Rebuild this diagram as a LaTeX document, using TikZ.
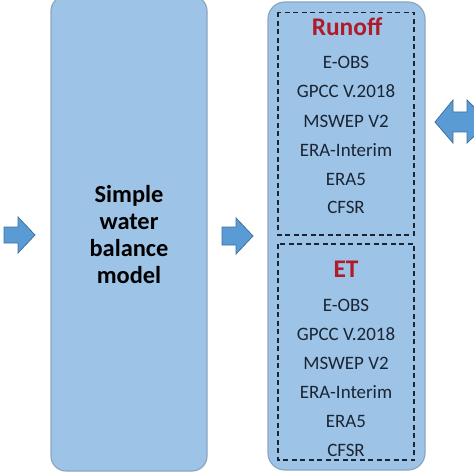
\documentclass[tikz,border=0pt]{standalone}
\usepackage{fontspec}
\setmainfont{Carlito}
\definecolor{boxfill}{HTML}{9DC3E6}
\definecolor{boxline}{HTML}{8AA6C0}
\definecolor{arrfill}{HTML}{5B9BD5}
\definecolor{arrline}{HTML}{41719C}
\definecolor{titlered}{HTML}{B01B2A}
\definecolor{txt}{HTML}{1A2433}
\begin{document}
\begin{tikzpicture}[x=1bp,y=-1bp,
  bigbox/.style={fill=boxfill,draw=boxline,line width=1.2bp,rounded corners=15bp},
  dashbox/.style={draw=txt,line width=1.4bp,dash pattern=on 5bp off 3.5bp},
  blockarrow/.style={fill=arrfill,draw=arrline,line width=0.8bp},
  item/.style={anchor=base,inner sep=0pt,text=txt,font=\fontsize{19}{21}\selectfont},
  title/.style={anchor=base,inner sep=0pt,text=titlered,font=\fontsize{25.5}{27}\selectfont\bfseries},
  model/.style={anchor=base,inner sep=0pt,text=black,font=\fontsize{24.5}{26}\selectfont\bfseries}]
\useasboundingbox (0,0) rectangle (474,474);
\clip (0,0) rectangle (474,474);
% boxes
\draw[bigbox] (51,-4) rectangle (207,471);
\draw[bigbox,rounded corners=17bp] (268,2) rectangle (425,470);
\draw[dashbox] (278,12.5) rectangle (414,235);
\draw[dashbox] (278,244) rectangle (414,460);
% arrows
\draw[blockarrow] (4,227) -- (18,227) -- (18,217) -- (35,235) -- (18,253) -- (18,243) -- (4,243) -- cycle;
\draw[blockarrow] (222,227) -- (236,227) -- (236,218) -- (253,236) -- (236,254) -- (236,245) -- (222,245) -- cycle;
\draw[blockarrow] (435,122) -- (453,100) -- (453,112) -- (467,112) -- (467,100) -- (489,122) -- (467,143) -- (467,132) -- (453,132) -- (453,143) -- cycle;
% left text
\node[model] (m1) at (129,203) {Simple};
\node[model] (m2) at (129,230) {water};
\node[model] (m3) at (129,256) {balance};
\node[model] (m4) at (129,283) {model};
% runoff
\node[title] (rt) at (347,36) {Runoff};
\node[item] (r1) at (346,69) {E-OBS};
\node[item] (r2) at (346,98) {GPCC V.2018};
\node[item] (r3) at (346,128) {MSWEP V2};
\node[item] (r4) at (346,157) {ERA-Interim};
\node[item] (r5) at (346,186) {ERA5};
\node[item] (r6) at (346,214) {CFSR};
% ET
\node[title] (et) at (346,277) {ET};
\node[item] (e1) at (346,311) {E-OBS};
\node[item] (e2) at (346,340) {GPCC V.2018};
\node[item] (e3) at (346,369) {MSWEP V2};
\node[item] (e4) at (346,398) {ERA-Interim};
\node[item] (e5) at (346,427) {ERA5};
\node[item] (e6) at (346,456) {CFSR};
\end{tikzpicture}
\end{document}
